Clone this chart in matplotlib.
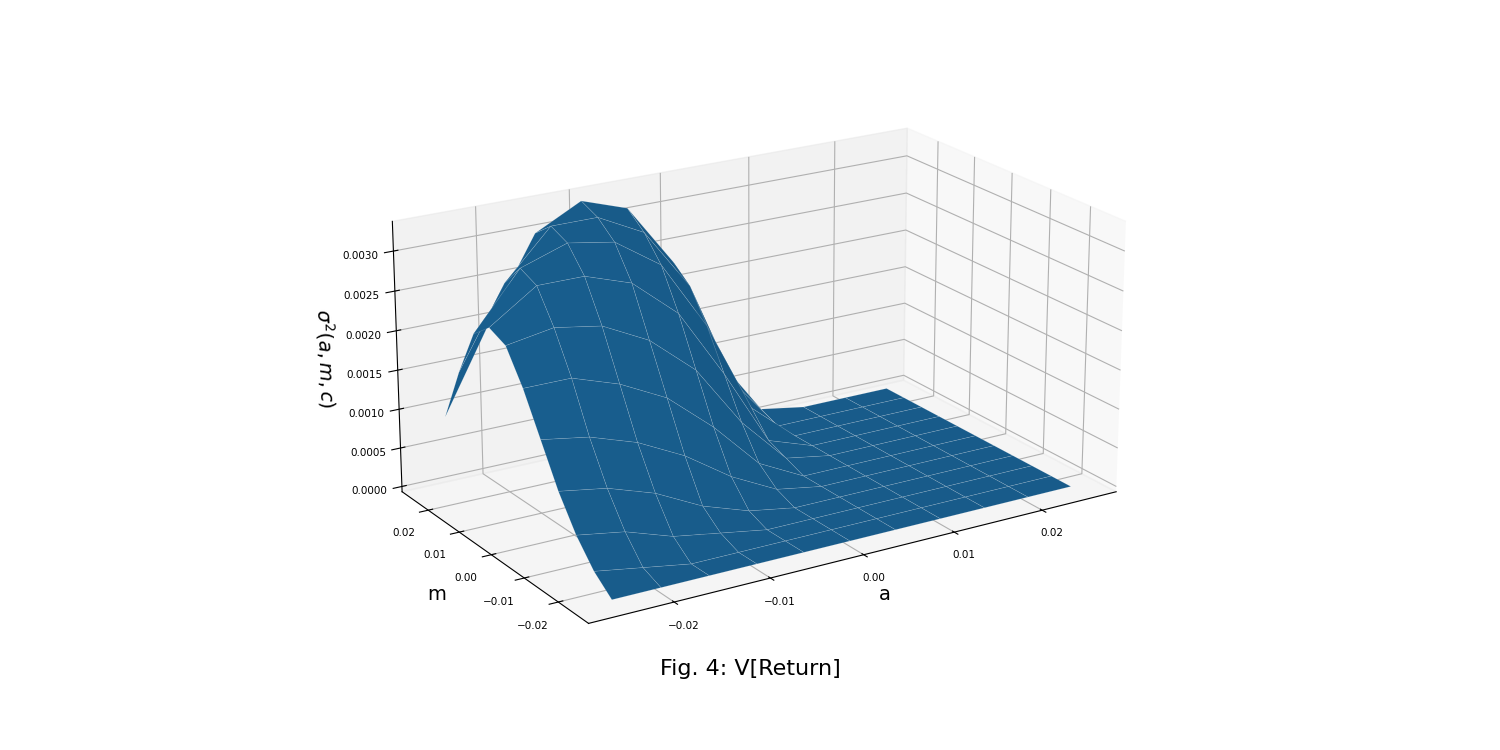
import numpy as np
import matplotlib
matplotlib.use("Agg")
import matplotlib.pyplot as plt

a_vals = [-0.025, -0.02, -0.015, -0.01, -0.005, 0.0, 0.005, 0.01, 0.015, 0.02, 0.025]
m_vals = [-0.025, -0.02, -0.015, -0.01, -0.005, 0.0, 0.005, 0.01, 0.015, 0.02, 0.025]
# rows: m, cols: a
sigma2 = [
    [0.0000, 0.0000, 0.0000, 0.0000, 0.0000, 0.0000, 0, 0, 0, 0, 0],
    [0.0002, 0.0001, 0.0000, 0.0000, 0.0000, 0.0000, 0, 0, 0, 0, 0],
    [0.0005, 0.0004, 0.0002, 0.0001, 0.0000, 0.0000, 0, 0, 0, 0, 0],
    [0.0009, 0.0008, 0.0006, 0.0003, 0.0001, 0.0000, 0, 0, 0, 0, 0],
    [0.0014, 0.0013, 0.0011, 0.0008, 0.0004, 0.0001, 0, 0, 0, 0, 0],
    [0.0019, 0.0019, 0.0017, 0.0014, 0.0009, 0.0003, 0, 0, 0, 0, 0],
    [0.0023, 0.0024, 0.0023, 0.0020, 0.0015, 0.0007, 0.0001, 0, 0, 0, 0],
    [0.0024, 0.0028, 0.0028, 0.0026, 0.0021, 0.0012, 0.0002, 0, 0, 0, 0],
    [0.0022, 0.0029, 0.0031, 0.0030, 0.0026, 0.0017, 0.0005, 0, 0, 0, 0],
    [0.0016, 0.0026, 0.0032, 0.0032, 0.0029, 0.0021, 0.0007, 0, 0, 0, 0],
    [0.0009, 0.0020, 0.0030, 0.0033, 0.0031, 0.0023, 0.0009, 0.0001, 0, 0, 0],
]

A, M = np.meshgrid(np.array(a_vals), np.array(m_vals))
Z = np.array(sigma2)

fig = plt.figure(figsize=(15, 7.5), dpi=100)
ax = fig.add_axes([0.0, 0.06, 1.0, 0.9], projection="3d")
ax.plot_surface(A, M, Z, color="#1f77b4", rstride=1, cstride=1,
                edgecolor=(1, 1, 1, 0.2), linewidth=0.4, antialiased=True)
ax.view_init(elev=20, azim=-122)
ax.set_box_aspect((1.6, 1.0, 0.75), zoom=1.12)
ax.set_xticks([-0.02, -0.01, 0.0, 0.01, 0.02])
ax.set_yticks([-0.02, -0.01, 0.0, 0.01, 0.02])
ax.set_zticks([0, 0.0005, 0.001, 0.0015, 0.002, 0.0025, 0.003])
ax.set_zticklabels(["0.0000", "0.0005", "0.0010", "0.0015", "0.0020", "0.0025", "0.0030"])
ax.tick_params(labelsize=7.5)
ax.set_xlabel("a", fontsize=14)
ax.set_ylabel("m", fontsize=14)
ax.set_zlabel(r"$\sigma^2(a, m, c)$", fontsize=14)
fig.text(0.5, 0.1, "Fig. 4: V[Return]", ha="center", fontsize=16)
fig.savefig("out.png", dpi=100)
